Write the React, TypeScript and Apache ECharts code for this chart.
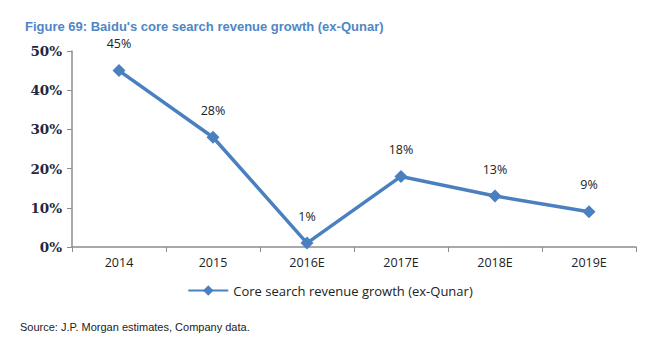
import React, { useEffect, useRef } from "react";
import * as echarts from "echarts";

const categories = ["2014", "2015", "2016E", "2017E", "2018E", "2019E"];
const growth = [45, 28, 1, 18, 13, 9];
const yTicks = [0, 10, 20, 30, 40, 50];
const seriesName = "Core search revenue growth (ex-Qunar)";
const title = "Figure 69: Baidu's core search revenue growth (ex-Qunar)";
const source = "Source: J.P. Morgan estimates, Company data.";

export default function App() {
  const ref = useRef<HTMLDivElement>(null);
  useEffect(() => {
    if (!ref.current) return;
    const chart = echarts.init(ref.current, null, { renderer: "svg" });
    chart.setOption({
      animation: false,
      backgroundColor: "#ffffff",
      title: {
        text: title,
        left: 20,
        top: 15,
        textStyle: {
          fontFamily: "Liberation Sans, Arial, sans-serif",
          fontWeight: "bold",
          fontSize: 13,
          color: "#4f86c6",
        },
      },
      graphic: [
        {
          type: "text",
          left: 20,
          top: 321,
          style: {
            text: source,
            fontFamily: "Liberation Sans, Arial, sans-serif",
            fontSize: 11,
            fill: "#222",
          },
        },
      ],
      legend: {
        data: [seriesName],
        left: "center",
        top: 279,
        itemWidth: 40,
        itemHeight: 13,
        textStyle: {
          fontFamily: "Open Sans, Carlito, sans-serif",
          fontSize: 13,
          color: "#222",
        },
      },
      grid: { left: 72, right: 24, top: 51, bottom: 110, containLabel: false },
      xAxis: {
        type: "category",
        data: categories,
        boundaryGap: true,
        axisLine: { lineStyle: { color: "#8c8c8c", width: 1.5 } },
        axisTick: { show: true, length: 5, lineStyle: { color: "#8c8c8c" } },
        axisLabel: {
          fontFamily: "Open Sans, sans-serif",
          fontSize: 12.5,
          color: "#222",
          margin: 9,
        },
      },
      yAxis: {
        type: "value",
        min: yTicks[0],
        max: yTicks[yTicks.length - 1],
        interval: 10,
        axisLine: { show: true, lineStyle: { color: "#8c8c8c", width: 1.5 } },
        axisTick: { show: true, length: 5, inside: false, lineStyle: { color: "#8c8c8c" } },
        splitLine: { show: false },
        axisLabel: {
          formatter: (v: number) => v + "%",
          fontFamily: "DejaVu Serif, serif",
          fontWeight: "bold",
          fontSize: 13.5,
          color: "#1f2940",
          margin: 10,
        },
      },
      series: [
        {
          name: seriesName,
          type: "line",
          data: growth,
          symbol: "diamond",
          symbolSize: 13,
          lineStyle: { color: "#4a80c0", width: 3.5 },
          itemStyle: { color: "#4a80c0" },
          label: {
            show: true,
            position: "top",
            distance: 14,
            formatter: (p: any) => p.value + "%",
            fontFamily: "Open Sans, sans-serif",
            fontSize: 12.5,
            color: "#222",
          },
        },
      ],
    });
    return () => chart.dispose();
  }, []);
  return <div ref={ref} style={{ width: 660, height: 357, position: "absolute", left: 0, top: 0 }} />;
}
